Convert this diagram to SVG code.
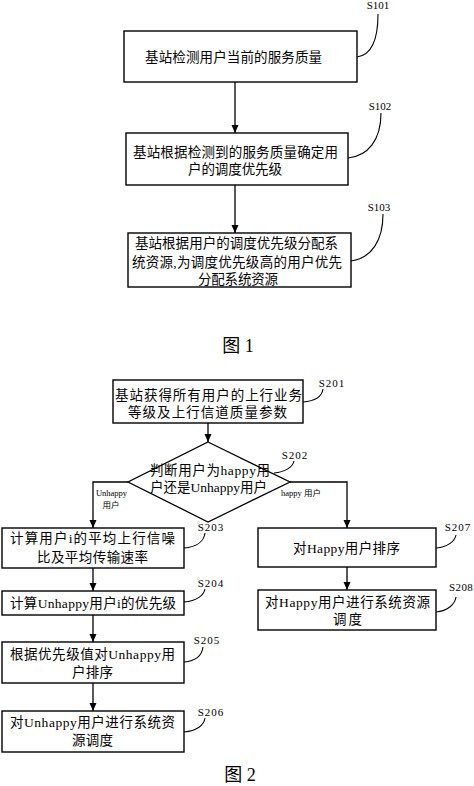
<svg xmlns="http://www.w3.org/2000/svg" width="474" height="786" viewBox="0 0 474 786">
<defs>
<marker id="ah" markerUnits="userSpaceOnUse" markerWidth="8" markerHeight="8" refX="8" refY="3.5" orient="auto">
<path d="M0,0 L8,3.5 L0,7 Z" fill="#000"/>
</marker>
<style>
rect.b{fill:#fff;stroke:#000;stroke-width:1.4}
path.d{fill:#fff;stroke:#000;stroke-width:1.3}
.t{font-family:"Liberation Serif","Noto Sans CJK SC",serif;font-size:13.5px;fill:#000;text-anchor:middle}
.s{font-family:"Liberation Serif",serif;font-size:11px;fill:#000;text-anchor:middle}
.s2{font-family:"Liberation Serif",serif;font-size:11px;fill:#000;text-anchor:middle;letter-spacing:1px}
.sm{font-family:"Liberation Serif","Noto Sans CJK SC",serif;font-size:8.5px;fill:#000;text-anchor:middle}
.cap{font-family:"Liberation Serif","Noto Sans CJK SC",serif;font-size:18px;fill:#000;text-anchor:middle}
.c{fill:none;stroke:#000;stroke-width:1.1}
.a{fill:none;stroke:#000;stroke-width:1.3}
</style>
</defs>
<rect width="474" height="786" fill="#fff"/>

<g id="connectors">
<line class="a" x1="235" y1="82" x2="235" y2="133" marker-end="url(#ah)"/>
<line class="a" x1="235" y1="185" x2="235" y2="233" marker-end="url(#ah)"/>
<line class="a" x1="208" y1="423" x2="208" y2="442" marker-end="url(#ah)"/>
<polyline class="a" points="128,482 93,482 93,528" marker-end="url(#ah)"/>
<polyline class="a" points="290,482 347,482 347,528" marker-end="url(#ah)"/>
<line class="a" x1="93" y1="568" x2="93" y2="591" marker-end="url(#ah)"/>
<line class="a" x1="93" y1="615" x2="93" y2="642" marker-end="url(#ah)"/>
<line class="a" x1="93" y1="683" x2="93" y2="711" marker-end="url(#ah)"/>
<line class="a" x1="347" y1="567" x2="347" y2="590" marker-end="url(#ah)"/>
<text class="sm" x="111.5" y="496">Unhappy</text>
<text class="sm" x="111" y="508">用户</text>
<text class="sm" x="301" y="496">happy 用户</text>
</g>

<g id="S101">
<rect class="b" x="124" y="31" width="233" height="51"/>
<text class="t" x="233.5" y="62" textLength="177" lengthAdjust="spacing">基站检测用户当前的服务质量</text>
<path class="c" d="M357,57 C372,55 378,40 378,14"/>
<text class="s" x="378" y="9">S101</text>
</g>

<g id="S102">
<rect class="b" x="126" y="133" width="222" height="52"/>
<text class="t" x="235.5" y="157" textLength="205" lengthAdjust="spacing">基站根据检测到的服务质量确定用</text>
<text class="t" x="235" y="174" textLength="94" lengthAdjust="spacing">户的调度优先级</text>
<path class="c" d="M348,158 C368,156 381,140 381,113"/>
<text class="s" x="380" y="110">S102</text>
</g>

<g id="S103">
<rect class="b" x="128" y="233" width="223" height="54"/>
<text class="t" x="236.5" y="248" textLength="203" lengthAdjust="spacing">基站根据用户的调度优先级分配系</text>
<text class="t" x="237" y="267" textLength="210" lengthAdjust="spacing">统资源,为调度优先级高的用户优先</text>
<text class="t" x="238" y="284" textLength="80" lengthAdjust="spacing">分配系统资源</text>
<path class="c" d="M351,261 C372,258 383,240 383,214"/>
<text class="s" x="379" y="211">S103</text>
</g>

<text class="cap" x="238" y="352">图 1</text>

<g id="S201">
<rect class="b" x="113" y="380" width="190" height="43"/>
<text class="t" x="208.5" y="400" textLength="187" lengthAdjust="spacing">基站获得所有用户的上行业务</text>
<text class="t" x="207.5" y="417" textLength="159" lengthAdjust="spacing">等级及上行信道质量参数</text>
<path class="c" d="M303,402 C316,401 322,396 323,389"/>
<text class="s2" x="332" y="387">S201</text>
</g>

<g id="S202">
<path class="d" d="M208,442 L290,482 L208,522 L128,482 Z"/>
<text class="t" x="210" y="475" textLength="120" lengthAdjust="spacing">判断用户为happy用</text>
<text class="t" x="208.5" y="492" textLength="117" lengthAdjust="spacing">户还是Unhappy用户</text>
<path class="c" d="M274,473 C285,472 293,467 294,461"/>
<text class="s2" x="295" y="459">S202</text>
</g>

<g id="S203">
<rect class="b" x="2" y="528" width="182" height="40"/>
<text class="t" x="92.5" y="543" textLength="165" lengthAdjust="spacing">计算用户i的平均上行信噪</text>
<text class="t" x="92.5" y="562" textLength="111" lengthAdjust="spacing">比及平均传输速率</text>
<path class="c" d="M184,548 C197,547 204,541 205,533"/>
<text class="s2" x="211" y="531">S203</text>
</g>

<g id="S204">
<rect class="b" x="2" y="591" width="182" height="24"/>
<text class="t" x="93" y="608" textLength="166" lengthAdjust="spacing">计算Unhappy用户i的优先级</text>
<path class="c" d="M184,602 C197,601 204,595 205,589"/>
<text class="s2" x="211" y="587">S204</text>
</g>

<g id="S205">
<rect class="b" x="2" y="642" width="182" height="41"/>
<text class="t" x="92.5" y="659" textLength="165" lengthAdjust="spacing">根据优先级值对Unhappy用</text>
<text class="t" x="92.5" y="677" textLength="41" lengthAdjust="spacing">户排序</text>
<path class="c" d="M184,662 C196,661 202,655 203,647"/>
<text class="s2" x="207" y="644">S205</text>
</g>

<g id="S206">
<rect class="b" x="2" y="711" width="182" height="41"/>
<text class="t" x="92.5" y="727" textLength="165" lengthAdjust="spacing">对Unhappy用户进行系统资</text>
<text class="t" x="92.5" y="745" textLength="41" lengthAdjust="spacing">源调度</text>
<path class="c" d="M184,732 C197,731 204,725 205,718"/>
<text class="s2" x="211" y="716">S206</text>
</g>

<g id="S207">
<rect class="b" x="258" y="528" width="178" height="39"/>
<text class="t" x="346.5" y="553" textLength="107" lengthAdjust="spacing">对Happy用户排序</text>
<path class="c" d="M436,548 C448,547 455,541 456,535"/>
<text class="s2" x="458" y="531">S207</text>
</g>

<g id="S208">
<rect class="b" x="258" y="590" width="178" height="40"/>
<text class="t" x="347.5" y="607" textLength="165" lengthAdjust="spacing">对Happy用户进行系统资源</text>
<text class="t" x="347.5" y="624" textLength="29" lengthAdjust="spacing">调度</text>
<path class="c" d="M436,612 C448,611 455,604 456,597"/>
<text class="s" x="449" y="591" style="text-anchor:start;letter-spacing:0.4px">S208</text>
</g>

<text class="cap" x="240" y="781">图 2</text>
</svg>
